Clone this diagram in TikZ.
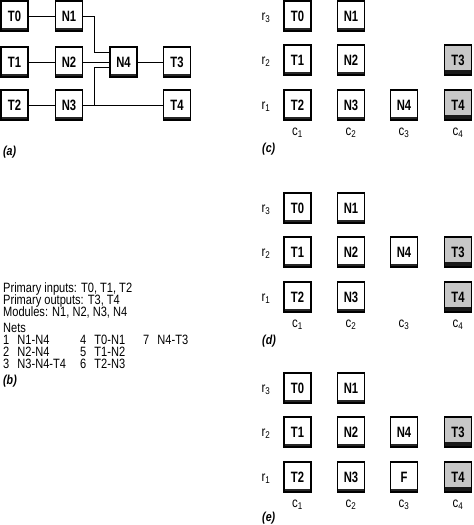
\documentclass[tikz,border=0pt]{standalone}
\usepackage{fontspec}
\setmainfont[FakeStretch=0.82]{Liberation Sans}
\newfontfamily\cellfont[FakeStretch=0.75]{Liberation Sans}
\tikzset{
  cell/.style={draw, line width=1.2pt, fill=white, minimum width=27pt, minimum height=30pt, inner sep=0pt,
    font=\cellfont\bfseries\fontsize{15}{15}\selectfont,
    path picture={\fill[black!85] ([yshift=3.5pt]path picture bounding box.south west) rectangle (path picture bounding box.south east);}},
  fixedcell/.style={cell, fill=black!22,
    path picture={\fill[black!90] ([yshift=5pt]path picture bounding box.south west) rectangle (path picture bounding box.south east);}},
  wire/.style={line width=0.6pt},
  tag/.style={font=\bfseries\itshape\fontsize{13}{13}\selectfont, anchor=base west, inner sep=0pt},
  txt/.style={font=\fontsize{13.5}{13.5}\selectfont, anchor=base west, inner sep=0pt},
  axis/.style={font=\fontsize{14}{14}\selectfont, inner sep=0pt}
}
\begin{document}
\begin{tikzpicture}[x=1pt, y=-1pt]
  \useasboundingbox (0,0) rectangle (474,525);
  % (a) circuit
  \node[cell] (T0) at (14.5,16) {T0};
  \node[cell] (N1) at (69,16) {N1};
  \node[cell] (T1) at (14.5,62) {T1};
  \node[cell] (N2) at (69,62) {N2};
  \node[cell] (N4) at (123.5,62) {N4};
  \node[cell] (T3) at (177,62) {T3};
  \node[cell] (T2) at (14.5,105) {T2};
  \node[cell] (N3) at (69,105) {N3};
  \node[cell] (T4) at (177,105) {T4};
  \coordinate (j1) at (94,52);
  \coordinate (j3) at (94,67);
  \draw[wire] (T0) -- (N1);
  \draw[wire] (T1) -- (N2);
  \draw[wire] (T2) -- (N3);
  \draw[wire] (N2) -- (N2 -| N4.west);
  \draw[wire] (N4) -- (T3);
  \draw[wire] (N3) -- (T4);
  \draw[wire] (N1.east) -| (j1) -- (j1 -| N4.west);
  \draw[wire] (j3 |- N3) -- (j3) -- (j3 -| N4.west);
  \node[tag] (taga) at (3,155) {(a)};
  % (b) netlist
  \node[txt] (pin) at (3,292) {Primary inputs: T0, T1, T2};
  \node[txt] (pout) at (3,304) {Primary outputs: T3, T4};
  \node[txt] (mods) at (3,316) {Modules: N1, N2, N3, N4};
  \node[txt] (nets) at (3,332) {Nets};
  \foreach \n/\a/\x/\y in {1/N1-N4/3/344, 2/N2-N4/3/356, 3/N3-N4-T4/3/368,
                           4/T0-N1/80/344, 5/T1-N2/80/356, 6/T2-N3/80/368, 7/N4-T3/143/344}
    \node[txt] (net\n) at (\x,\y) {\n\hspace{0.6em}\a};
  \node[tag] (tagb) at (3,384) {(b)};
  % (c)-(e) placements: row and column labels
  \foreach \oy/\p in {0/c, 192/d, 372/e} {
    \foreach \r/\y in {3/16, 2/60, 1/105}
      \node[axis] (\p r\r) at (266,\oy+\y+2) {r\textsubscript{\r}};
    \foreach \c/\x in {1/297.5, 2/351, 3/404, 4/458}
      \node[axis] (\p c\c) at (\x,\oy+133) {c\textsubscript{\c}};
  }
  \node[tag] (tagc) at (262,152) {(c)};
  \node[tag] (tagd) at (262,344) {(d)};
  \node[tag] (tage) at (262,521) {(e)};
  % (c)
  \node[cell] (cT0) at (297.5,16) {T0};
  \node[cell] (cN1) at (351,16) {N1};
  \node[cell] (cT1) at (297.5,60) {T1};
  \node[cell] (cN2) at (351,60) {N2};
  \node[fixedcell] (cT3) at (458,60) {T3};
  \node[cell] (cT2) at (297.5,105) {T2};
  \node[cell] (cN3) at (351,105) {N3};
  \node[cell] (cN4) at (404,105) {N4};
  \node[fixedcell] (cT4) at (458,105) {T4};
  % (d)
  \node[cell] (dT0) at (297.5,208) {T0};
  \node[cell] (dN1) at (351,208) {N1};
  \node[cell] (dT1) at (297.5,252) {T1};
  \node[cell] (dN2) at (351,252) {N2};
  \node[cell] (dN4) at (404,252) {N4};
  \node[fixedcell] (dT3) at (458,252) {T3};
  \node[cell] (dT2) at (297.5,297) {T2};
  \node[cell] (dN3) at (351,297) {N3};
  \node[fixedcell] (dT4) at (458,297) {T4};
  % (e)
  \node[cell] (eT0) at (297.5,388) {T0};
  \node[cell] (eN1) at (351,388) {N1};
  \node[cell] (eT1) at (297.5,432) {T1};
  \node[cell] (eN2) at (351,432) {N2};
  \node[cell] (eN4) at (404,432) {N4};
  \node[fixedcell] (eT3) at (458,432) {T3};
  \node[cell] (eT2) at (297.5,477) {T2};
  \node[cell] (eN3) at (351,477) {N3};
  \node[cell] (eF) at (404,477) {F};
  \node[fixedcell] (eT4) at (458,477) {T4};
\end{tikzpicture}
\end{document}
